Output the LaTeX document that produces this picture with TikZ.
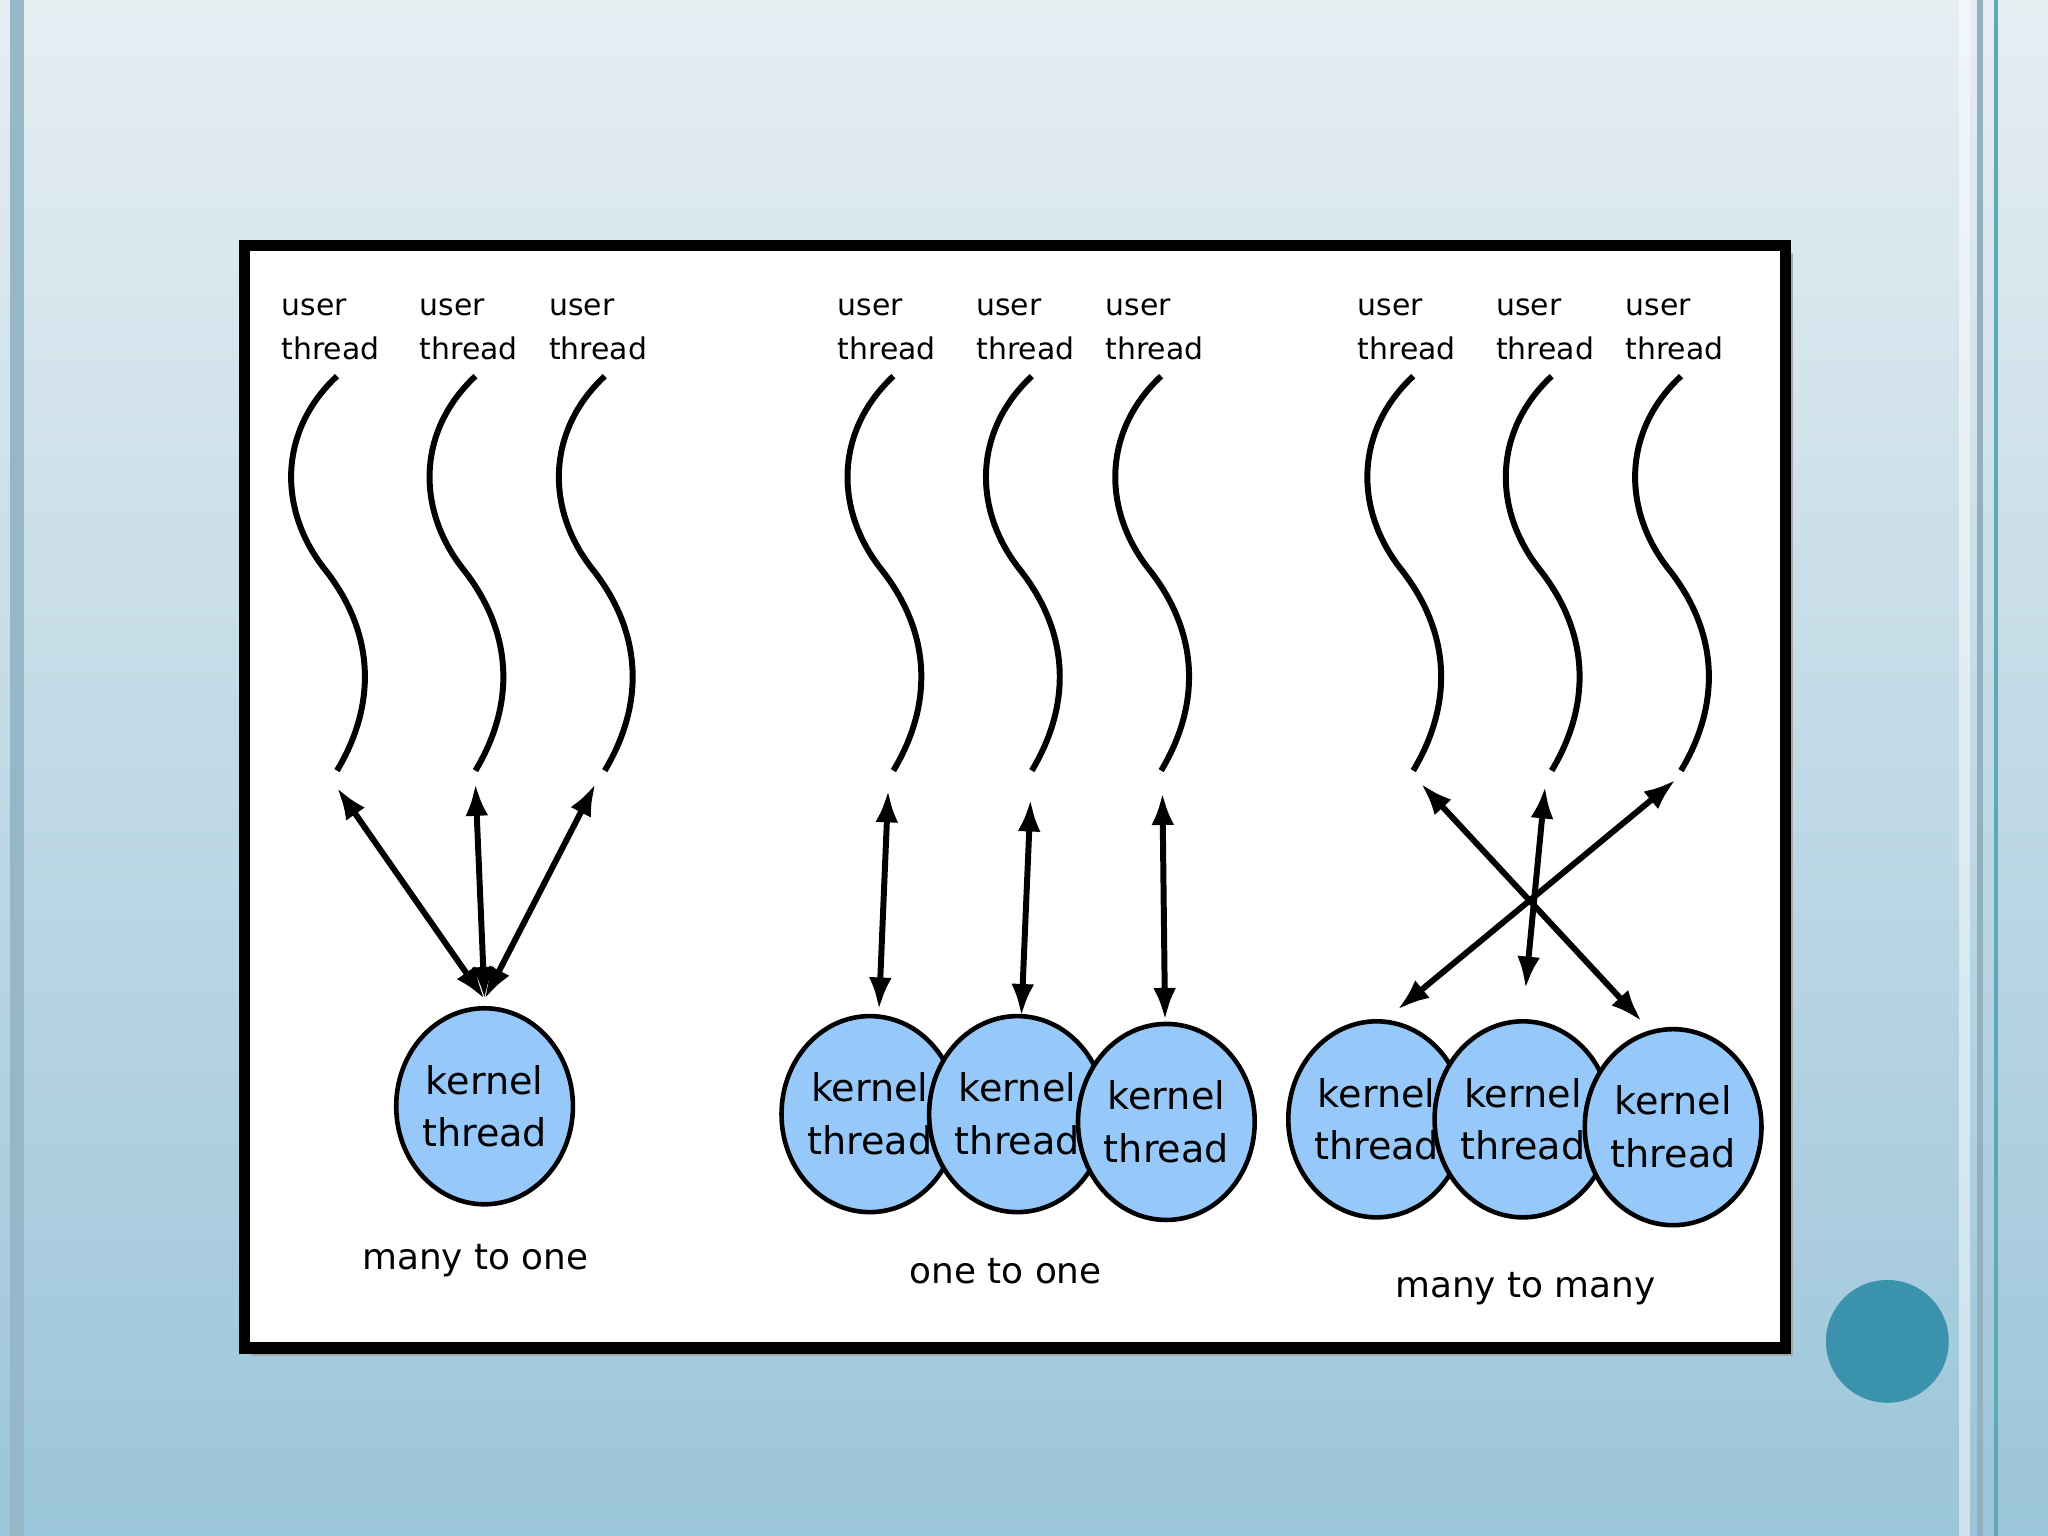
\documentclass[tikz,border=0pt]{standalone}
\usepackage{fontspec}
\setmainfont{DejaVu Sans}
\usetikzlibrary{arrows.meta,shapes.geometric}
\definecolor{bgtop}{HTML}{E6EEF2}
\definecolor{bgbot}{HTML}{9BC5DA}
\definecolor{kfill}{HTML}{96C8FA}
\definecolor{dot}{HTML}{3A92AD}
\begin{document}
\begin{tikzpicture}[x=0.01cm,y=-0.01cm,
  ut/.style={font=\fontsize{6.5}{9.5}\selectfont,align=left,inner sep=0pt},
  kt/.style={draw=black,line width=1pt,fill=kfill,ellipse,minimum width=1.04cm,minimum height=1.5cm,inner sep=0pt,
    font=\fontsize{8.3}{11.5}\selectfont,align=center},
  captxt/.style={font=\fontsize{7.8}{10}\selectfont},
  wave/.style={line width=1.3pt},
  conn/.style={line width=1.3pt,{Latex[length=7pt,width=5pt]}-{Latex[length=7pt,width=5pt]}}]
\useasboundingbox (0,0) rectangle (1568,1176);
\shade[top color=bgtop,bottom color=bgbot] (0,0) rectangle (1568,1176);
\fill[bgbot!80!gray] (8,0) rectangle (18,1176);
\fill[white,opacity=.5] (1500,0) rectangle (1508,1176);
\fill[bgbot!70!gray] (1514,0) rectangle (1518,1176);
\fill[bgbot!60!teal] (1527,0) rectangle (1530,1176);
\fill[dot] (1445,1027) circle (47);
\fill[gray!70] (193,194) rectangle (1373,1038);
\draw[line width=2.5pt,fill=white] (187,188) rectangle (1367,1032);
\foreach \n/\t in {a1/258,a2/364,a3/463,b1/684,b2/790,b3/889,c1/1082,c2/1188,c3/1287}{
  \node[ut] (l\n) at (\t-5,252) {user\\thread};
  \coordinate (s\n) at (\t,288);
  \coordinate (e\n) at (\t,590);
  \draw[wave] (s\n) .. controls (\t-45,330) and (\t-45,390) .. (\t-10,435)
     .. controls (\t+30,485) and (\t+30,540) .. (e\n);
}
\node[kt] (ka) at (371,847) {kernel\\thread};
\node[kt] (kb1) at (666,853) {kernel\\thread};
\node[kt] (kb2) at (779,853) {kernel\\thread};
\node[kt] (kb3) at (893,859) {kernel\\thread};
\node[kt] (kc1) at (1054,857) {kernel\\thread};
\node[kt] (kc2) at (1166,857) {kernel\\thread};
\node[kt] (kc3) at (1281,863) {kernel\\thread};
\coordinate (ta) at (371,765);
\coordinate (p1) at (258,603); \coordinate (p2) at (364,600); \coordinate (p3) at (456,600);
\draw[conn] (ta) -- (p1); \draw[conn] (ta) -- (p2); \draw[conn] (ta) -- (p3);
\coordinate (q1) at (680,605); \coordinate (r1) at (673,773);
\coordinate (q2) at (789,612); \coordinate (r2) at (782,778);
\coordinate (q3) at (890,607); \coordinate (r3) at (892,781);
\draw[conn] (r1) -- (q1); \draw[conn] (r2) -- (q2); \draw[conn] (r3) -- (q3);
\coordinate (u1) at (1088,600); \coordinate (v1) at (1257,782);
\coordinate (u2) at (1183,602); \coordinate (v2) at (1168,757);
\coordinate (u3) at (1283,597); \coordinate (v3) at (1070,773);
\draw[conn] (v1) -- (u1); \draw[conn] (v2) -- (u2); \draw[conn] (v3) -- (u3);
\node[captxt] (ca) at (364,965) {many to one};
\node[captxt] (cb) at (770,973) {one to one};
\node[captxt] (cc) at (1168,987) {many to many};
\end{tikzpicture}
\end{document}
